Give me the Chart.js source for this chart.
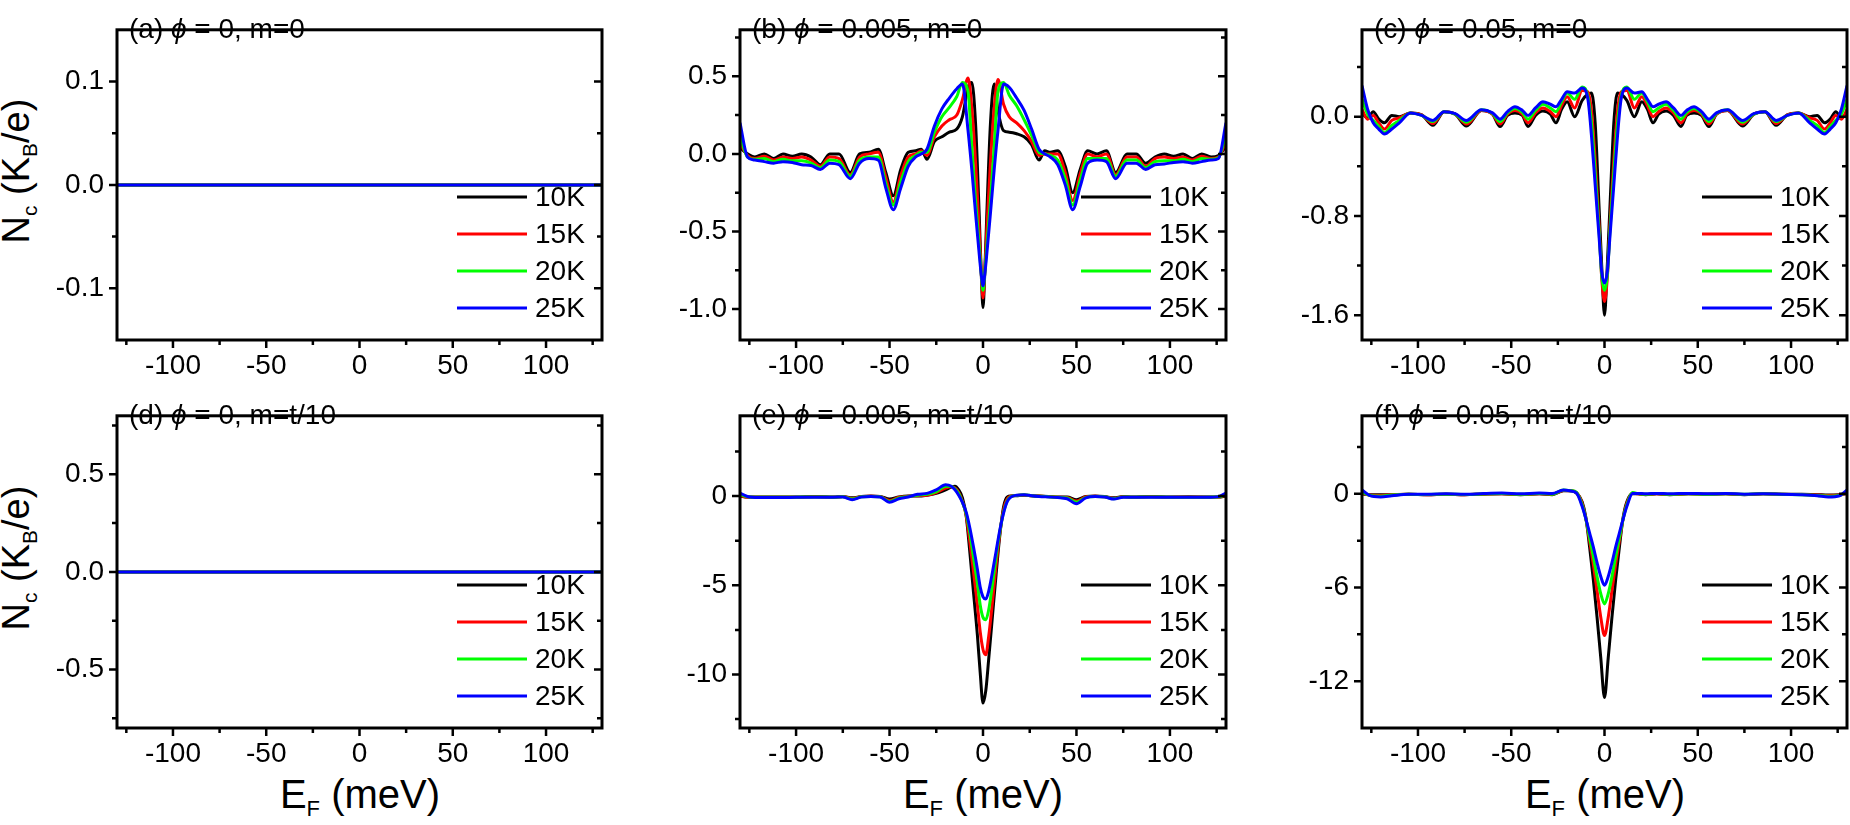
<!DOCTYPE html>
<html>
<head>
<meta charset="utf-8">
<title>Nc vs EF</title>
<script src="https://cdn.jsdelivr.net/npm/chart.js@4.4.1/dist/chart.umd.min.js"></script>
<style>
  html, body { margin: 0; padding: 0; background: #fff; }
  body { position: relative; width: 1850px; height: 825px; overflow: hidden;
         font-family: "Liberation Sans", Arial, sans-serif; color: #000; }
  canvas { position: absolute; }
  .plab { position: absolute; font-size: 28px; line-height: 32px; white-space: nowrap; }
  .xt { position: absolute; top: 774px; width: 400px; font-size: 40px; line-height: 40px;
        text-align: center; white-space: nowrap; }
  .yt { position: absolute; width: 300px; height: 40px; font-size: 38px; line-height: 40px;
        text-align: center; white-space: nowrap; transform: rotate(-90deg); }
  .s { font-size: 0.55em; vertical-align: -0.38em; }
</style>
</head>
<body>
<div class="yt" style="left:-134px; top:151px">N<span class="s">c</span> (K<span class="s">B</span>/e)</div>
<div class="yt" style="left:-134px; top:538px">N<span class="s">c</span> (K<span class="s">B</span>/e)</div>
<div class="xt" style="left:160px">E<span class="s">F</span> (meV)</div>
<div class="xt" style="left:783px">E<span class="s">F</span> (meV)</div>
<div class="xt" style="left:1405px">E<span class="s">F</span> (meV)</div>

<script>
// temperatures
const tempLabels = ['10K', '15K', '20K', '25K'];

// x axis ticks (meV), shared by all panels
const xLim = [-130, 130];
const xTicks = [-100, -50, 0, 50, 100];
const xMinor = [-125, -75, -25, 25, 75, 125];

// (a) phi = 0, m = 0
const xA = [-130, -40, -30, -20, -10, 0, 10, 20, 30, 40, 130];
const a10 = [0, 0, 0, 0, 0, 0, 0, 0, 0, 0, 0];
const a15 = [0, 0, 0, 0, 0, 0, 0, 0, 0, 0, 0];
const a20 = [0, 0, 0, 0, 0, 0, 0, 0, 0, 0, 0];
const a25 = [0, 0, 0, 0, 0, 0, 0, 0, 0, 0, 0];
const yLimA = [-0.15, 0.15];
const yTicksA = [-0.1, 0, 0.1];
const yMinorA = [-0.05, 0.05];

// (b) phi = 0.005, m = 0
const xB = [-130,-126,-122,-117,-112,-107,-102,-97,-92,-87,-82,-77,-71,-66,-61,-56,-52,-48,-44,-40,
  -36,-33,-30,-26,-22,-18,-14,-11,-8,-6,-4,-2,-1,0,1,2,4,6,8,11,14,18,22,26,30,33,36,40,44,48,
  52,56,61,66,71,77,82,87,92,97,102,107,112,117,122,126,130];
const b10 = [0.04,0,-0.02,0,-0.03,0,-0.015,0,-0.02,-0.07,
  0,0,-0.12,0,0.01,0.03,-0.12,-0.27,-0.1,0.01,
  0.02,0.03,-0.035,0.08,0.11,0.14,0.16,0.24,0.43,0.46,
  0.2,-0.4,-0.75,-0.99,-0.75,-0.4,0.2,0.45,0.28,0.15,
  0.14,0.13,0.11,0.06,-0.04,0.02,0.01,0.02,-0.08,-0.25,
  -0.1,0.02,0,0.02,-0.12,0,0,-0.06,-0.02,0,
  -0.015,0,-0.03,0,-0.02,-0.01,0.05];
const b15 = [0.07,-0.01,-0.03,-0.015,-0.04,-0.02,-0.03,-0.02,-0.04,-0.08,
  -0.02,-0.03,-0.135,-0.02,0,0.01,-0.15,-0.31,-0.14,-0.02,
  0,0.02,-0.01,0.11,0.18,0.22,0.25,0.35,0.49,0.3,
  -0.05,-0.5,-0.75,-0.93,-0.75,-0.5,-0.05,0.3,0.48,0.32,
  0.24,0.2,0.15,0.08,-0.01,0,0,0,-0.12,-0.3,
  -0.13,0,-0.02,0,-0.135,-0.02,-0.02,-0.08,-0.03,-0.02,
  -0.03,-0.02,-0.04,-0.015,-0.03,-0.02,0.08];
const b20 = [0.12,-0.02,-0.035,-0.03,-0.05,-0.035,-0.045,-0.045,-0.06,-0.09,
  -0.04,-0.05,-0.145,-0.04,-0.02,-0.02,-0.19,-0.33,-0.18,-0.05,
  -0.01,0.01,0.01,0.14,0.24,0.3,0.37,0.46,0.4,0.05,
  -0.3,-0.6,-0.76,-0.88,-0.76,-0.6,-0.3,0.05,0.4,0.46,
  0.38,0.31,0.22,0.12,0.01,0,-0.01,-0.04,-0.16,-0.33,
  -0.17,-0.03,-0.03,-0.03,-0.145,-0.04,-0.04,-0.09,-0.05,-0.045,
  -0.045,-0.035,-0.05,-0.03,-0.035,-0.025,0.13];
const b25 = [0.2,-0.02,-0.04,-0.05,-0.06,-0.05,-0.055,-0.07,-0.075,-0.1,
  -0.06,-0.07,-0.16,-0.06,-0.03,-0.04,-0.22,-0.36,-0.22,-0.08,
  -0.02,0,0.03,0.18,0.29,0.36,0.42,0.45,0.15,-0.1,
  -0.38,-0.65,-0.77,-0.85,-0.77,-0.65,-0.38,-0.1,0.15,0.45,
  0.43,0.36,0.28,0.16,0.03,0,-0.02,-0.07,-0.2,-0.36,
  -0.21,-0.06,-0.04,-0.05,-0.16,-0.06,-0.06,-0.1,-0.07,-0.065,
  -0.055,-0.05,-0.06,-0.05,-0.04,-0.03,0.2];
const yLimB = [-1.2, 0.8];
const yTicksB = [-1.0, -0.5, 0, 0.5];
const yMinorB = [-0.75, -0.25, 0.25, 0.75];

// (c) phi = 0.05, m = 0
const xC = [-130,-127,-124,-121,-118,-114,-110,-104,-98,-92,-86,-80,-74,-66,-60,-56,-52,-48,-44,-41,
  -37,-33,-29,-26,-23,-20,-16,-12,-9,-7,-5,-3,-1.5,0,1.5,3,5,7,9,12,16,20,23,26,29,33,37,41,44,48,
  52,56,60,66,74,80,86,92,98,104,110,114,118,121,124,127,130];
const c10 = [0.03,-0.01,0.04,-0.02,-0.05,0.01,0,0.03,0.015,-0.07,
  0.04,0.02,-0.075,0.05,0.02,-0.08,0.01,0.03,0.01,-0.08,
  0.01,0.045,0.02,-0.05,0.06,0.12,0,0.13,0.18,0.19,
  -0.05,-0.7,-1.2,-1.6,-1.2,-0.7,-0.05,0.19,0.18,0.13,
  0,0.12,0.06,-0.05,0.02,0.045,0.01,-0.08,0.01,0.03,
  0.01,-0.08,0.02,0.05,-0.075,0.02,0.04,-0.07,0.015,0.03,
  0,0.01,-0.05,-0.02,0.04,-0.01,0.03];
const c15 = [0.06,-0.02,0.01,-0.05,-0.1,-0.03,-0.01,0.03,0.015,-0.055,
  0.04,0.02,-0.06,0.05,0.02,-0.06,0.02,0.05,0.02,-0.05,
  0.03,0.07,0.04,0,0.09,0.16,0.07,0.21,0.2,0.05,
  -0.35,-0.85,-1.3,-1.49,-1.3,-0.85,-0.35,0.05,0.2,0.21,
  0.07,0.16,0.09,0,0.04,0.07,0.03,-0.05,0.02,0.05,
  0.02,-0.06,0.02,0.05,-0.06,0.02,0.04,-0.055,0.015,0.03,
  -0.01,-0.03,-0.1,-0.05,0.01,-0.02,0.06];
const c20 = [0.14,0.02,-0.03,-0.08,-0.13,-0.07,-0.03,0.03,0.01,-0.04,
  0.04,0.02,-0.045,0.055,0.025,-0.04,0.03,0.065,0.035,-0.02,
  0.05,0.1,0.07,0.04,0.12,0.19,0.14,0.24,0.17,-0.05,
  -0.45,-0.9,-1.28,-1.4,-1.28,-0.9,-0.45,-0.05,0.17,0.24,
  0.14,0.19,0.12,0.04,0.07,0.1,0.05,-0.02,0.035,0.065,
  0.03,-0.04,0.025,0.055,-0.045,0.02,0.04,-0.04,0.01,0.03,
  -0.03,-0.07,-0.13,-0.08,-0.03,0.02,0.14];
const c25 = [0.25,0.06,-0.05,-0.1,-0.14,-0.1,-0.05,0.03,0.01,-0.03,
  0.04,0.025,-0.03,0.055,0.03,-0.02,0.04,0.08,0.05,0.01,
  0.07,0.12,0.1,0.08,0.14,0.2,0.19,0.23,0.15,-0.15,
  -0.55,-0.95,-1.25,-1.34,-1.25,-0.95,-0.55,-0.15,0.15,0.23,
  0.19,0.2,0.14,0.08,0.1,0.12,0.07,0.01,0.05,0.08,
  0.04,-0.02,0.03,0.055,-0.03,0.025,0.04,-0.03,0.01,0.03,
  -0.05,-0.1,-0.14,-0.1,-0.05,0.06,0.25];
const yLimC = [-1.8, 0.7];
const yTicksC = [-1.6, -0.8, 0];
const yMinorC = [-1.2, -0.4, 0.4];

// (d) phi = 0, m = t/10
const xD = [-130, -40, -30, -20, -10, 0, 10, 20, 30, 40, 130];
const d10 = [0, 0, 0, 0, 0, 0, 0, 0, 0, 0, 0];
const d15 = [0, 0, 0, 0, 0, 0, 0, 0, 0, 0, 0];
const d20 = [0, 0, 0, 0, 0, 0, 0, 0, 0, 0, 0];
const d25 = [0, 0, 0, 0, 0, 0, 0, 0, 0, 0, 0];
const yLimD = [-0.8, 0.8];
const yTicksD = [-0.5, 0, 0.5];
const yMinorD = [-0.75, -0.25, 0.25, 0.75];

// (e) phi = 0.005, m = t/10
const xE = [-130,-126,-120,-110,-100,-90,-80,-75,-70,-65,-60,-55,-50,-45,-40,-35,-30,-25,-20,-17,
  -15,-13,-11,-9,-7,-5,-3,-1.5,0,1.5,3,5,7,9,11,13,15,18,22,26,
  30,35,40,45,50,55,60,65,70,75,80,90,100,110,120,126,130];
const e10 = [0,-0.05,-0.05,-0.05,-0.05,-0.03,-0.05,-0.02,-0.1,-0.02,
  0,-0.02,-0.17,-0.05,0,0,0.05,0.15,0.35,0.5,
  0.55,0.35,-0.1,-1.1,-3.2,-5.5,-7.8,-9.9,-11.6,-10.9,
  -9.2,-6.8,-4.4,-2.2,-0.6,-0.05,0,0.02,0.05,0.02,
  0,-0.02,-0.05,-0.05,-0.2,-0.02,0,-0.03,-0.1,-0.03,
  -0.05,-0.03,-0.05,-0.04,-0.05,-0.05,0];
const e15 = [0.02,-0.06,-0.06,-0.06,-0.06,-0.04,-0.06,-0.03,-0.13,-0.03,
  -0.01,-0.03,-0.25,-0.07,-0.01,0.02,0.05,0.2,0.45,0.52,
  0.45,0.2,-0.3,-1.1,-2.6,-4.3,-6.1,-7.6,-8.6,-8.9,
  -7.9,-6,-3.9,-2.1,-0.75,-0.15,0,0.03,0.06,0.02,
  0,-0.03,-0.06,-0.08,-0.28,-0.04,-0.01,-0.04,-0.13,-0.04,
  -0.06,-0.04,-0.06,-0.05,-0.06,-0.05,0.03];
const e20 = [0.08,-0.04,-0.07,-0.07,-0.06,-0.05,-0.06,-0.04,-0.16,-0.04,
  -0.02,-0.04,-0.3,-0.1,-0.03,0.05,0.1,0.25,0.55,0.55,
  0.4,0.15,-0.35,-1,-2.1,-3.5,-4.9,-6.1,-6.8,-6.93,
  -6.4,-5,-3.4,-2,-0.9,-0.25,-0.02,0.04,0.07,0.02,
  -0.01,-0.04,-0.07,-0.11,-0.35,-0.07,-0.02,-0.04,-0.15,-0.05,
  -0.06,-0.05,-0.06,-0.06,-0.06,-0.04,0.08];
const e25 = [0.17,-0.02,-0.08,-0.08,-0.07,-0.06,-0.06,-0.05,-0.2,-0.05,
  -0.03,-0.05,-0.35,-0.15,-0.05,0.1,0.15,0.35,0.63,0.55,
  0.35,0.05,-0.35,-0.9,-1.8,-2.9,-4.1,-5.1,-5.65,-5.77,
  -5.35,-4.3,-3.1,-1.9,-0.95,-0.3,-0.05,0.05,0.08,0.02,
  -0.02,-0.05,-0.08,-0.15,-0.43,-0.1,-0.03,-0.05,-0.17,-0.06,
  -0.06,-0.06,-0.07,-0.07,-0.07,-0.03,0.17];
const yLimE = [-13, 4.5];
const yTicksE = [-10, -5, 0];
const yMinorE = [-12.5, -7.5, -2.5, 2.5];

// (f) phi = 0.05, m = t/10
const xF = [-130,-126,-120,-114,-105,-95,-85,-75,-65,-55,-45,-35,-28,-22,-18,-15,-12,-10,-8,-6,
  -4,-2,0,2,4,6,8,10,12,15,18,22,28,35,45,55,65,75,85,95,105,114,120,126,130];
const f10 = [0,-0.05,-0.05,-0.05,-0.02,-0.05,-0.02,-0.05,-0.02,0,
  -0.05,0,-0.05,0.2,0.2,0.05,-0.5,-1.5,-3.4,-5.5,
  -7.9,-10.5,-13.05,-10.5,-7.9,-5.5,-3.4,-1.5,-0.5,0,
  0,-0.05,0,-0.05,0,-0.02,0,-0.05,0,-0.02,
  -0.03,-0.05,-0.08,-0.05,0];
const f15 = [0.05,-0.08,-0.1,-0.06,-0.03,-0.05,-0.02,-0.05,-0.02,0,
  -0.04,0,-0.03,0.22,0.2,0.08,-0.6,-1.6,-3,-4.5,
  -6.2,-7.9,-9.08,-7.9,-6.2,-4.5,-3,-1.6,-0.6,0.05,
  0,-0.04,0,-0.04,0,-0.02,0,-0.04,0,-0.03,
  -0.04,-0.07,-0.1,-0.08,0.05];
const f20 = [0.12,-0.09,-0.15,-0.08,-0.03,-0.04,-0.02,-0.04,-0.01,0.02,
  -0.03,0.02,-0.02,0.24,0.2,0.1,-0.7,-1.6,-2.8,-4,
  -5.3,-6.4,-7.05,-6.4,-5.3,-4,-2.8,-1.6,-0.7,0.08,
  0.02,-0.03,0.02,-0.03,0.01,-0.02,0.01,-0.03,0,-0.03,
  -0.05,-0.1,-0.15,-0.1,0.12];
const f25 = [0.25,-0.1,-0.2,-0.12,-0.02,-0.03,0,-0.03,0.02,0.05,
  0,0.05,0.02,0.25,0.18,0.05,-0.8,-1.6,-2.5,-3.4,
  -4.4,-5.3,-5.86,-5.3,-4.4,-3.4,-2.5,-1.6,-0.8,0.02,
  0.03,0,0.03,0,0.03,0,0.02,-0.02,0,-0.02,
  -0.06,-0.12,-0.2,-0.12,0.25];
const yLimF = [-15, 5];
const yTicksF = [-12, -6, 0];
const yMinorF = [-15, -9, -3, 3];

// ---- layout ----
const colLeft = [117, 740, 1362];
const colRight = [602, 1226, 1847];
const rowTop = [2, 388];
const rowBottom = [340, 728];
const YW = 100, XH = 50, PADR = 4, PADT = 2;
const lineColors = ['#000000', '#ff0000', '#00ff00', '#0000ff'];
const tickFont = { family: '"Liberation Sans", Arial, sans-serif', size: 28 };

const panels = [
  { label: '(a) <i>ϕ</i> = 0, m=0',        xs: xA, ys: [a10, a15, a20, a25], lim: yLimA, ticks: yTicksA, minor: yMinorA, dec: 1, col: 0, row: 0 },
  { label: '(b) <i>ϕ</i> = 0.005, m=0',    xs: xB, ys: [b10, b15, b20, b25], lim: yLimB, ticks: yTicksB, minor: yMinorB, dec: 1, col: 1, row: 0 },
  { label: '(c) <i>ϕ</i> = 0.05, m=0',     xs: xC, ys: [c10, c15, c20, c25], lim: yLimC, ticks: yTicksC, minor: yMinorC, dec: 1, col: 2, row: 0 },
  { label: '(d) <i>ϕ</i> = 0, m=t/10',     xs: xD, ys: [d10, d15, d20, d25], lim: yLimD, ticks: yTicksD, minor: yMinorD, dec: 1, col: 0, row: 1 },
  { label: '(e) <i>ϕ</i> = 0.005, m=t/10', xs: xE, ys: [e10, e15, e20, e25], lim: yLimE, ticks: yTicksE, minor: yMinorE, dec: 0, col: 1, row: 1 },
  { label: '(f) <i>ϕ</i> = 0.05, m=t/10',  xs: xF, ys: [f10, f15, f20, f25], lim: yLimF, ticks: yTicksF, minor: yMinorF, dec: 0, col: 2, row: 1 }
];

// frame, tick marks and in-plot legend
const framePlugin = {
  id: 'frame',
  afterDraw(chart, args, opts) {
    const { ctx, chartArea: a, scales } = chart;
    const sx = scales.x, sy = scales.y;
    ctx.save();
    ctx.strokeStyle = '#000';
    ctx.lineWidth = 3;
    ctx.strokeRect(a.left, a.top, a.right - a.left, a.bottom - a.top);

    ctx.lineWidth = 2.5;
    ctx.beginPath();
    xTicks.forEach(v => { const p = sx.getPixelForValue(v); ctx.moveTo(p, a.bottom); ctx.lineTo(p, a.bottom + 8); });
    xMinor.forEach(v => { const p = sx.getPixelForValue(v); ctx.moveTo(p, a.bottom); ctx.lineTo(p, a.bottom + 5); });
    opts.major.forEach(v => {
      const p = sy.getPixelForValue(v);
      ctx.moveTo(a.left - 8, p); ctx.lineTo(a.left, p);
      ctx.moveTo(a.right - 8, p); ctx.lineTo(a.right, p);
    });
    opts.minor.forEach(v => {
      const p = sy.getPixelForValue(v);
      if (p <= a.top + 2 || p >= a.bottom - 2) return;
      ctx.moveTo(a.left - 5, p); ctx.lineTo(a.left, p);
      ctx.moveTo(a.right - 5, p); ctx.lineTo(a.right, p);
    });
    ctx.stroke();

    // legend
    ctx.font = '28px "Liberation Sans", Arial, sans-serif';
    ctx.textBaseline = 'middle';
    ctx.textAlign = 'left';
    chart.data.datasets.forEach((ds, i) => {
      const y = a.bottom - 143 + 37 * i;
      ctx.strokeStyle = ds.borderColor;
      ctx.lineWidth = 3;
      ctx.beginPath();
      ctx.moveTo(a.right - 145, y);
      ctx.lineTo(a.right - 75, y);
      ctx.stroke();
      ctx.fillStyle = '#000';
      ctx.fillText(ds.label, a.right - 67, y + 1);
    });
    ctx.restore();
  }
};

panels.forEach(p => {
  const left = colLeft[p.col] - YW;
  const top = rowTop[p.row] - PADT;
  const w = colRight[p.col] - colLeft[p.col] + YW + PADR;
  const h = rowBottom[p.row] - rowTop[p.row] + PADT + XH;

  const cv = document.createElement('canvas');
  cv.width = w; cv.height = h;
  cv.style.left = left + 'px';
  cv.style.top = top + 'px';
  document.body.appendChild(cv);

  const lab = document.createElement('div');
  lab.className = 'plab';
  lab.innerHTML = p.label;
  lab.style.left = (colLeft[p.col] + 12) + 'px';
  lab.style.top = (rowTop[p.row] + 11) + 'px';
  document.body.appendChild(lab);

  // blue (25K) drawn on top, black underneath
  const datasets = p.ys.map((ys, i) => ({
    label: tempLabels[i],
    data: p.xs.map((x, j) => ({ x: x, y: ys[j] })),
    borderColor: lineColors[i],
    borderWidth: 3,
    pointRadius: 0,
    fill: false,
    order: 3 - i,
    cubicInterpolationMode: 'monotone'
  }));

  new Chart(cv.getContext('2d'), {
    type: 'line',
    data: { datasets: datasets },
    options: {
      responsive: false,
      animation: false,
      devicePixelRatio: 1,
      layout: { padding: { top: PADT, right: PADR, left: 0, bottom: 0 } },
      plugins: {
        legend: { display: false },
        tooltip: { enabled: false },
        frame: { major: p.ticks, minor: p.minor }
      },
      scales: {
        x: {
          type: 'linear', min: xLim[0], max: xLim[1],
          grid: { display: false, drawTicks: false },
          border: { display: false },
          afterBuildTicks: s => { s.ticks = xTicks.map(v => ({ value: v })); },
          afterFit: s => { s.height = XH; },
          ticks: { font: tickFont, color: '#000', padding: 9, maxRotation: 0, autoSkip: false }
        },
        y: {
          type: 'linear', min: p.lim[0], max: p.lim[1],
          grid: { display: false, drawTicks: false },
          border: { display: false },
          afterBuildTicks: s => { s.ticks = p.ticks.map(v => ({ value: v })); },
          afterFit: s => { s.width = YW; },
          ticks: { font: tickFont, color: '#000', padding: 13, autoSkip: false,
                   callback: v => Number(v).toFixed(p.dec) }
        }
      }
    },
    plugins: [framePlugin]
  });
});
</script>
</body>
</html>
